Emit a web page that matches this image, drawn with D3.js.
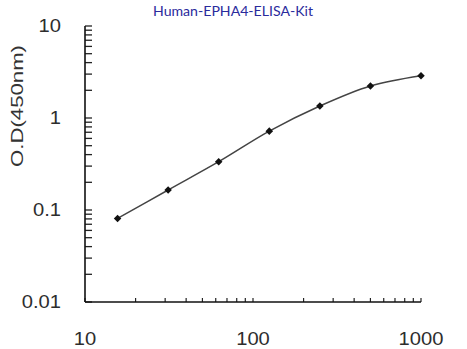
<!DOCTYPE html>
<html>
<head>
<meta charset="utf-8">
<script src="https://cdn.jsdelivr.net/npm/d3@7"></script>
<style>
  body { margin: 0; background: #fff; }
  svg { display: block; }
</style>
</head>
<body>
<div id="chart"></div>
<script>
// standard curve data
var concentration = [15.625, 31.25, 62.5, 125, 250, 500, 1000];
var odValues = [0.081, 0.165, 0.335, 0.72, 1.35, 2.23, 2.88];
var xTickValues = [10, 100, 1000];
var yTickValues = [0.01, 0.1, 1, 10];
var yTickLabels = ["0.01", "0.1", "1", "10"];

var svgWidth = 467;
var svgHeight = 349;
var margin = {top: 26, right: 46, bottom: 47, left: 85};
var width = svgWidth - margin.left - margin.right;
var height = svgHeight - margin.top - margin.bottom;

var svg = d3.select("#chart")
    .append("svg")
    .attr("width", svgWidth)
    .attr("height", svgHeight);

var chartGroup = svg.append("g")
    .attr("transform", `translate(${margin.left}, ${margin.top})`);

var xScale = d3.scaleLog().domain([10, 1000]).range([0, width]);
var yScale = d3.scaleLog().domain([0.01, 10]).range([height, 0]);

// minor ticks for every decade
function minorTicks(lo, hi) {
  var t = [];
  for (var d = lo; d < hi; d *= 10) {
    for (var k = 1; k < 10; k++) t.push(d * k);
  }
  t.push(hi);
  return t;
}

// y ticks (pointing inward)
chartGroup.append("g")
  .selectAll("line")
  .data(minorTicks(0.01, 10))
  .enter()
  .append("line")
  .attr("x1", 0)
  .attr("x2", 7)
  .attr("y1", d => yScale(d))
  .attr("y2", d => yScale(d))
  .attr("stroke", "#222")
  .attr("stroke-width", 1.3);

// x ticks (pointing upward)
chartGroup.append("g")
  .selectAll("line")
  .data(minorTicks(10, 1000))
  .enter()
  .append("line")
  .attr("x1", d => xScale(d))
  .attr("x2", d => xScale(d))
  .attr("y1", height)
  .attr("y2", height - 4)
  .attr("stroke", "#222")
  .attr("stroke-width", 1.2);

// axis lines
chartGroup.append("line")
  .attr("x1", 0).attr("x2", 0)
  .attr("y1", yScale(10)).attr("y2", height)
  .attr("stroke", "#111").attr("stroke-width", 1.6);
chartGroup.append("line")
  .attr("x1", 0).attr("x2", xScale(1000))
  .attr("y1", height).attr("y2", height)
  .attr("stroke", "#111").attr("stroke-width", 1.6);

function stretch(sel, f) {
  sel.each(function() {
    var w = this.getComputedTextLength();
    d3.select(this).attr("textLength", w * f).attr("lengthAdjust", "spacingAndGlyphs");
  });
}

// y tick labels
var yLabels = chartGroup.append("g")
  .selectAll("text")
  .data(yTickValues)
  .enter()
  .append("text")
  .attr("x", -24)
  .attr("y", d => yScale(d))
  .attr("dy", "0.36em")
  .attr("text-anchor", "end")
  .attr("font-family", "Liberation Sans, Arial, sans-serif")
  .attr("font-size", 18)
  .attr("fill", "#2d2d2d")
  .text((d, i) => yTickLabels[i]);
stretch(yLabels, 1.12);

// x tick labels
var xLabels = chartGroup.append("g")
  .selectAll("text")
  .data(xTickValues)
  .enter()
  .append("text")
  .attr("x", d => xScale(d))
  .attr("y", height + 43)
  .attr("text-anchor", "middle")
  .attr("font-family", "Liberation Sans, Arial, sans-serif")
  .attr("font-size", 18)
  .attr("fill", "#2d2d2d")
  .text(d => d);
stretch(xLabels, 1.12);

// curve
var line = d3.line()
  .x((d, i) => xScale(concentration[i]))
  .y(d => yScale(d))
  .curve(d3.curveCatmullRom);

chartGroup.append("path")
  .datum(odValues)
  .attr("d", line)
  .attr("fill", "none")
  .attr("stroke", "#444")
  .attr("stroke-width", 1.5);

// diamond markers
chartGroup.append("g")
  .selectAll("path")
  .data(odValues)
  .enter()
  .append("path")
  .attr("d", d3.symbol().type(d3.symbolDiamond2).size(36))
  .attr("transform", (d, i) => `translate(${xScale(concentration[i])}, ${yScale(d)})`)
  .attr("fill", "#111");

// title
svg.append("text")
  .attr("x", 233)
  .attr("y", 16)
  .attr("text-anchor", "middle")
  .attr("font-family", "Lato, Open Sans, sans-serif")
  .attr("font-size", 14)
  .attr("fill", "#2a2a9c")
  .attr("textLength", 160)
  .attr("lengthAdjust", "spacingAndGlyphs")
  .text("Human-EPHA4-ELISA-Kit");

// y axis title
svg.append("text")
  .attr("transform", "translate(23, 106) rotate(-90)")
  .attr("text-anchor", "middle")
  .attr("font-family", "Liberation Sans, Arial, sans-serif")
  .attr("font-size", 17)
  .attr("fill", "#333")
  .attr("textLength", 122)
  .attr("lengthAdjust", "spacingAndGlyphs")
  .text("O.D(450nm)");

// x axis title (cut off at the bottom edge)
svg.append("text")
  .attr("x", 253)
  .attr("y", 362)
  .attr("text-anchor", "middle")
  .attr("font-family", "Liberation Sans, Arial, sans-serif")
  .attr("font-size", 17)
  .attr("fill", "#555")
  .attr("textLength", 290)
  .attr("lengthAdjust", "spacingAndGlyphs")
  .text("Concentration(pg/ml)");
</script>
</body>
</html>
